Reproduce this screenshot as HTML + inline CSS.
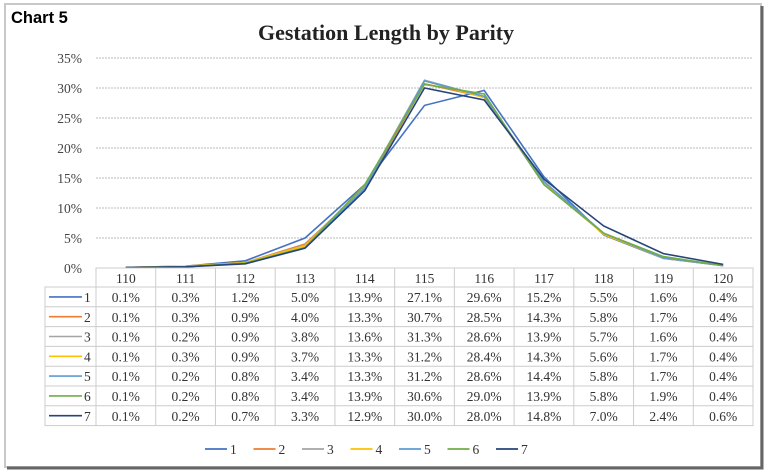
<!DOCTYPE html>
<html><head><meta charset="utf-8"><style>
body{margin:0;background:#fff;}
#wrap{position:relative;width:770px;height:476px;overflow:hidden;background:#fff;}
svg text{font-family:"Liberation Serif",serif;}
</style></head><body>
<div id="wrap">
<svg id="svg" width="770" height="476">
<rect x="5" y="4" width="756" height="463" fill="#fff" stroke="#c8c8c8" stroke-width="2"/>
<path d="M762 6 V468 H7" fill="none" stroke="#666" stroke-width="3"/>
<text x="11" y="23" font-size="16.5" font-weight="bold" style="font-family:'Liberation Sans',sans-serif">Chart 5</text>
<text x="386" y="40" font-size="22" font-weight="bold" text-anchor="middle" fill="#222">Gestation Length by Parity</text>
<g id="grid"></g><g id="lines"></g><g id="table"></g><g id="legend"></g>
</svg>
</div>
<script>
const categories=["110","111","112","113","114","115","116","117","118","119","120"];
const yTicks=[0,5,10,15,20,25,30,35];
const seriesNames=["1","2","3","4","5","6","7"];
const s1=[0.1,0.3,1.2,5.0,13.9,27.1,29.6,15.2,5.5,1.6,0.4];
const s2=[0.1,0.3,0.9,4.0,13.3,30.7,28.5,14.3,5.8,1.7,0.4];
const s3=[0.1,0.2,0.9,3.8,13.6,31.3,28.6,13.9,5.7,1.6,0.4];
const s4=[0.1,0.3,0.9,3.7,13.3,31.2,28.4,14.3,5.6,1.7,0.4];
const s5=[0.1,0.2,0.8,3.4,13.3,31.2,28.6,14.4,5.8,1.7,0.4];
const s6=[0.1,0.2,0.8,3.4,13.9,30.6,29.0,13.9,5.8,1.9,0.4];
const s7=[0.1,0.2,0.7,3.3,12.9,30.0,28.0,14.8,7.0,2.4,0.6];
const series=[s1,s2,s3,s4,s5,s6,s7];
const colors=["#4472C4","#ED7D31","#A5A5A5","#FFC000","#5B9BD5","#70AD47","#264478"];
const NS="http://www.w3.org/2000/svg";
const X0=96,X1=753,Y0=268,Y35=58;
const cw=(X1-X0)/categories.length;
const xs=i=>X0+cw*(i+0.5);
const ys=v=>Y0-(v/35)*(Y0-Y35);
function mk(tag,attrs,parent){const e=document.createElementNS(NS,tag);for(const k in attrs)e.setAttribute(k,attrs[k]);parent.appendChild(e);return e;}
const grid=document.getElementById('grid');
yTicks.forEach(t=>{
  if(t>0){const l=mk('line',{x1:X0,x2:X1,y1:ys(t),y2:ys(t),stroke:'#bbb','stroke-dasharray':'2,1'},grid);
  
  }
  const tx=mk('text',{x:82,y:ys(t)+5,'font-size':13.5,'text-anchor':'end',fill:'#444'},grid);
  tx.textContent=t+'%';
  
  
});
const lines=document.getElementById('lines');
series.forEach((s,k)=>{
  const p=mk('polyline',{points:s.map((v,i)=>xs(i)+','+ys(v)).join(' '),fill:'none',stroke:colors[k],'stroke-width':1.6},lines);
  
  
});
const tb=document.getElementById('table');
const RH=19.8,HT=Y0+19,LX=45;
mk('rect',{x:X0,y:Y0,width:X1-X0,height:HT-Y0,fill:'none',stroke:'#ccc'},tb);
categories.forEach((c,i)=>{
  if(i>0)mk('line',{x1:X0+cw*i,x2:X0+cw*i,y1:Y0,y2:HT+RH*7,stroke:'#ccc'},tb);
  const t=mk('text',{x:xs(i),y:Y0+15,'font-size':13.5,'text-anchor':'middle',fill:'#333'},tb);
  t.textContent=c;
  
  
});
mk('rect',{x:LX,y:HT,width:X1-LX,height:RH*7,fill:'none',stroke:'#ccc'},tb);
mk('line',{x1:X0,x2:X0,y1:HT,y2:HT+RH*7,stroke:'#ccc'},tb);
series.forEach((s,k)=>{
  const y=HT+RH*k;
  if(k>0)mk('line',{x1:LX,x2:X1,y1:y,y2:y,stroke:'#ccc'},tb);
  const key=mk('line',{x1:LX+4,x2:LX+37,y1:y+RH/2,y2:y+RH/2,stroke:colors[k],'stroke-width':1.6},tb);
  
  
  const n=mk('text',{x:LX+39,y:y+15,'font-size':13.5,fill:'#333'},tb);
  n.textContent=seriesNames[k];
  
  
  s.forEach((v,i)=>{
    const t=mk('text',{x:xs(i),y:y+15,'font-size':13.5,'text-anchor':'middle',fill:'#333'},tb);
    t.textContent=v.toFixed(1)+'%';
    
    
  });
});
const lg=document.getElementById('legend');
seriesNames.forEach((nm,k)=>{
  const bx=205+k*48.5;
  const l=mk('line',{x1:bx,x2:bx+22,y1:449,y2:449,stroke:colors[k],'stroke-width':1.8},lg);
  
  
  const t=mk('text',{x:bx+25,y:454,'font-size':13.5,fill:'#333'},lg);
  t.textContent=nm;
  
  
});
</script>
</body></html>
